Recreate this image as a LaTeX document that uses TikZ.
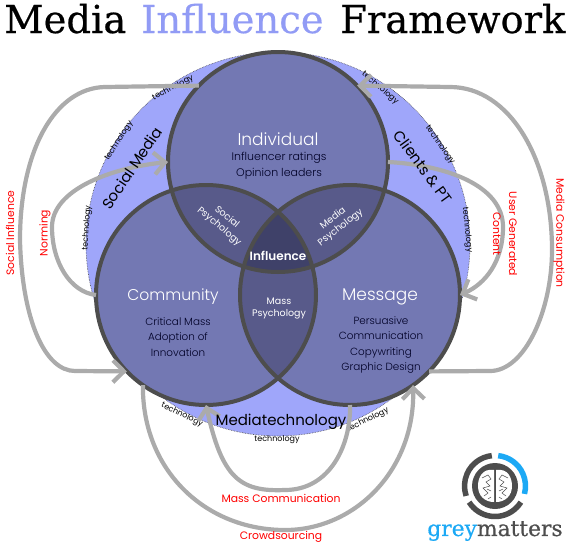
\documentclass[tikz,border=0pt]{standalone}
\usepackage{fontspec}
\setmainfont{Poppins}[UprightFont=* Light]
\newfontfamily\regfont{Poppins}
\newfontfamily\slabfont{DejaVu Serif}[FakeBold=0.5]
\usepackage{tikz}
\usetikzlibrary{positioning,arrows.meta}
\definecolor{bgblue}{HTML}{9FA6FA}
\definecolor{vennfill}{HTML}{7378B3}
\definecolor{venntwo}{HTML}{585A8A}
\definecolor{vennthree}{HTML}{3F4169}
\definecolor{ringgray}{HTML}{4D4D4D}
\definecolor{linkgray}{HTML}{ABABAB}
\definecolor{titleblue}{HTML}{919BF5}
\definecolor{logoblue}{HTML}{1CA9F5}
\tikzset{
  venn/.style={circle,minimum size=220pt,inner sep=0pt,outer sep=0pt},
  link/.style={draw=linkgray,line width=4.2pt,-{Straight Barb[length=11pt,width=22pt]}},
  red label/.style={font=\regfont\fontsize{10.8}{16}\selectfont,red,align=center},
  tech/.style={font=\regfont\fontsize{8}{9}\selectfont,inner sep=0pt},
  head/.style={font=\fontsize{17}{20}\selectfont,white},
  sub/.style={font=\fontsize{10.4}{15.6}\selectfont,align=center,black!85!blue},
  inner label/.style={font=\regfont\fontsize{9.5}{12}\selectfont,white,align=center},
  side/.style={font=\regfont\fontsize{15}{18}\selectfont},
  title/.style={font=\slabfont\fontsize{38.5}{42}\selectfont,anchor=base west,inner sep=0pt}
}

\begin{document}
\begin{tikzpicture}[x=1pt,y=-1pt]
\useasboundingbox (0,0) rectangle (570,546);
% title
\node[title] (media) at (4,33) {Media};
\node[title,titleblue] (influencetitle) at (141,33) {Influence};
\node[title] (framework) at (340,33) {Framework};
% backdrop
\fill[bgblue] (278,244) circle[radius=192pt];
\draw[black!70,densely dotted,line width=0.6pt] (278,244) circle[radius=192pt];
% three circles
\node[venn,fill=vennfill] (individual) at (278,162) {};
\node[venn,fill=vennfill] (community) at (206,295) {};
\node[venn,fill=vennfill] (message) at (350,295) {};
\begin{scope}
  \clip (278,162) circle[radius=110pt];
  \fill[venntwo] (206,295) circle[radius=110pt];
  \fill[venntwo] (350,295) circle[radius=110pt];
\end{scope}
\begin{scope}
  \clip (206,295) circle[radius=110pt];
  \fill[venntwo] (350,295) circle[radius=110pt];
  \clip (350,295) circle[radius=110pt];
  \fill[vennthree] (278,162) circle[radius=110pt];
\end{scope}
\foreach \c in {individual,community,message}
  \draw[ringgray,line width=4pt] (\c.center) circle[radius=110pt];
% technology ring
\foreach \x/\y/\r/\n in {173/88/28/a,119/141/57/b,87/228/86/c,380/88/-40/d,440/145/-55/e,467/230/-84/f,182/415/-26/g,277/440/0/h,368/420/26/i}
  \node[tech,rotate=\r] (tech\n) at (\x,\y) {technology};
% connectors
\draw[link] (individual.136) -- (105,87) .. controls (55,88) and (20,150) .. (20,240)
  .. controls (22,320) and (45,371) .. (75,371) -- (community.224);
\draw[link] (community.180) .. controls (70,292) and (52,262) .. (52,227)
  .. controls (52,190) and (110,168) .. (individual.180);
\draw[link] (individual.0) .. controls (445,165) and (503,185) .. (503,227)
  .. controls (503,262) and (485,284) .. (message.0);
\draw[link] (message.-44) -- (490,371) .. controls (525,371) and (552,310) .. (552,250)
  .. controls (552,160) and (510,87) .. (450,87) -- (individual.44);
\draw[link] (message.south) .. controls (351,445) and (330,490) .. (285,490)
  .. controls (240,492) and (222,478) .. (community.south);
\draw[link] (community.235) .. controls (142,470) and (205,530) .. (285,530)
  .. controls (355,530) and (415,470) .. (message.-55);
% labels
\node[side,rotate=56] (socialmedia) at (132,168) {Social Media};
\node[side,rotate=-54] (clients) at (423,167) {Clients \& PT};
\node[font=\regfont\fontsize{15}{18}\selectfont] (mediatech) at (281,422) {Mediatechnology};
\node[head] (individualtxt) at (278,139) {Individual};
\node[sub,font=\fontsize{11}{15.6}\selectfont] (individualsub) at (279,166) {Influencer ratings\\Opinion leaders};
\node[head,font=\fontsize{15.6}{20}\selectfont] (communitytxt) at (173,297) {Community};
\node[sub] (communitysub) at (178,337) {Critical Mass\\Adoption of\\Innovation};
\node[head] (messagetxt) at (380,297) {Message};
\node[sub] (messagesub) at (381,345) {Persuasive\\Communication\\Copywriting\\Graphic Design};
\node[inner label,rotate=-40] (socialpsy) at (223,222) {Social\\Psychology};
\node[inner label,rotate=38] (mediapsy) at (337,223) {Media\\Psychology};
\node[inner label] (masspsy) at (279,308) {Mass\\Psychology};
\node[font=\fontsize{12}{14}\selectfont\bfseries,white] (influence) at (278,256) {Influence};
\node[red label,rotate=90] (socialinf) at (10,233) {Social Influence};
\node[red label,rotate=90] (norming) at (45,233) {Norming};
\node[red label,rotate=-90] (usergen) at (505,234) {User Generated\\Content};
\node[red label,rotate=-90] (mediacons) at (559,233) {Media Consumption};
\node[red label] (masscomm) at (281,498) {Mass Communication};
\node[red label] (crowd) at (281,537) {Crowdsourcing};
% logo
\fill[ringgray] (495,486) circle[radius=23pt];
\draw[logoblue,line width=5.5pt] (495,486) ++(84:30.5pt) arc[start angle=84,end angle=-15,radius=30.5pt];
\draw[ringgray,line width=5.5pt] (495,486) ++(96:30.5pt) arc[start angle=96,end angle=199,radius=30.5pt];
\draw[ringgray,line width=5.5pt] (495,486) ++(-32:30.5pt) arc[start angle=-32,end angle=-148,radius=30.5pt];
\fill[white] (494,470) .. controls (482,468) and (478,478) .. (478,486) .. controls (478,496) and (485,502) .. (494,502) -- cycle;
\fill[white] (496,470) .. controls (508,468) and (512,478) .. (512,486) .. controls (512,496) and (505,502) .. (496,502) -- cycle;
\draw[ringgray,line width=0.5pt] (482,478) -- (488,475) -- (491,479) -- (486,482) -- (490,486) -- (483,488) -- (488,493) -- (484,496)
  (491,491) -- (487,489) (491,497) -- (488,499) (508,478) -- (502,475) -- (499,479) -- (504,482) -- (500,486) -- (507,488) -- (502,493) -- (506,496)
  (499,491) -- (503,489) (499,497) -- (502,499);
\node[font=\slabfont\fontsize{21.8}{24}\selectfont,inner sep=0pt] (greymatters) at (495,531) {\textcolor{logoblue}{grey}\textcolor{ringgray}{matters}};
\end{tikzpicture}
\end{document}
